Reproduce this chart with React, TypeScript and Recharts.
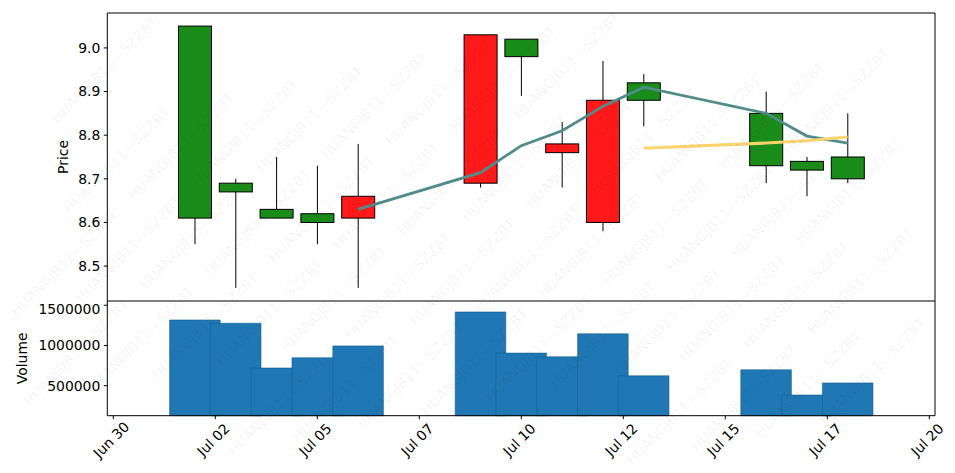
import React from 'react';
import { ComposedChart, Bar, Line, XAxis, YAxis, ReferenceArea } from 'recharts';

// ---- data ----
const DATES = [
  '2018-07-02', '2018-07-03', '2018-07-04', '2018-07-05', '2018-07-06',
  '2018-07-09', '2018-07-10', '2018-07-11', '2018-07-12', '2018-07-13',
  '2018-07-16', '2018-07-17', '2018-07-18',
];
const OPEN = [9.05, 8.69, 8.63, 8.62, 8.61, 8.69, 9.02, 8.76, 8.6, 8.92, 8.85, 8.74, 8.75];
const HIGH = [9.05, 8.7, 8.75, 8.73, 8.78, 9.03, 9.02, 8.83, 8.97, 8.94, 8.9, 8.75, 8.85];
const LOW = [8.55, 8.45, 8.61, 8.55, 8.45, 8.68, 8.89, 8.68, 8.58, 8.82, 8.69, 8.66, 8.69];
const CLOSE = [8.61, 8.67, 8.61, 8.6, 8.66, 9.03, 8.98, 8.78, 8.88, 8.88, 8.73, 8.72, 8.7];
const VOLUME = [1317000, 1276000, 720000, 847000, 995000, 1417000, 905000, 859000, 1145000, 623000, 698000, 384000, 534000];
const MA5 = [null, null, null, null, 8.63, 8.714, 8.776, 8.81, 8.866, 8.91, 8.85, 8.798, 8.782];
const MA10 = [null, null, null, null, null, null, null, null, null, 8.77, 8.782, 8.787, 8.796];

const ORIGIN = '2018-06-30';
const X_TICKS = [0, 2.5, 5, 7.5, 10, 12.5, 15, 17.5, 20];
const X_TICK_LABELS = ['Jun 30', 'Jul 02', 'Jul 05', 'Jul 07', 'Jul 10', 'Jul 12', 'Jul 15', 'Jul 17', 'Jul 20'];
const X_DOMAIN: [number, number] = [-0.147, 20.14];

const PRICE_TICKS = [8.5, 8.6, 8.7, 8.8, 8.9, 9.0];
const PRICE_DOMAIN: [number, number] = [8.42, 9.08];
const VOL_TICKS = [500000, 1000000, 1500000];
const VOL_DOMAIN: [number, number] = [127000, 1553000];
const VOL_BAR_DAYS = 1.24; // width of a volume bar, in days

const WATERMARK = 'HUANGJB11—SZZBT';

const dayOffset = (s: string) => (Date.parse(s) - Date.parse(ORIGIN)) / 86400000;

const rows = DATES.map((d, i) => ({
  d: dayOffset(d),
  open: OPEN[i],
  high: HIGH[i],
  low: LOW[i],
  close: CLOSE[i],
  volume: VOLUME[i],
  ma5: MA5[i],
  ma10: MA10[i],
}));

const FONT = 'DejaVu Sans, sans-serif';
const FS = 13.9;
const UP = '#ff1919';
const DOWN = '#198c19';

const Candle = (props: any) => {
  const { x, y, width, height, payload } = props;
  if (!payload) return null;
  const { open, high, low, close } = payload;
  const top = Math.min(y, y + height);
  const h = Math.abs(height);
  const ppu = h / (high - low);
  const py = (v: number) => top + (high - v) * ppu;
  const cx = x + width / 2;
  const bTop = py(Math.max(open, close));
  const bBot = py(Math.min(open, close));
  const color = close >= open ? UP : DOWN;
  return (
    <g>
      <line x1={cx} x2={cx} y1={top} y2={top + h} stroke="#000" strokeWidth={1} />
      <rect x={x} y={bTop} width={width} height={Math.max(bBot - bTop, 0.5)} fill={color} stroke="#000" strokeWidth={1} />
    </g>
  );
};

const XTick = (props: any) => {
  const { x, y, payload } = props;
  const i = X_TICKS.indexOf(payload.value);
  const label = i >= 0 ? X_TICK_LABELS[i] : '';
  const cx = x - 2;
  const cy = y + 20.5;
  return (
    <text
      x={cx}
      y={cy}
      textAnchor="middle"
      dominantBaseline="central"
      fontFamily={FONT}
      fontSize={FS}
      fill="#000"
      transform={`rotate(-45, ${cx}, ${cy})`}
    >
      {label}
    </text>
  );
};

const axisLabel = (text: string, dx: number) => (p: any) => {
  const vb = p.viewBox || {};
  const cx = vb.x + dx;
  const cy = vb.y + vb.height / 2;
  return (
    <text x={cx} y={cy} textAnchor="middle" dominantBaseline="central" fontFamily={FONT} fontSize={FS} fill="#000" transform={`rotate(-90, ${cx}, ${cy})`}>
      {text}
    </text>
  );
};

const Watermark = () => {
  const items: React.ReactNode[] = [];
  const c = Math.SQRT1_2;
  const ext = 110; // diagonal extent of one text
  let k = 0;
  for (let a = -14; a <= 18; a++) {
    for (let b = -6; b <= 50; b++) {
      const u = a * 165 + (b % 3) * 55;
      const v = b * 36 - 300;
      const x = u * c + v * c;
      const y = -u * c + v * c + 300;
      if (x < 6 || x + ext > 950 || y - ext < 4 || y > 466) continue;
      items.push(
        <text key={k++} x={x} y={y} fontFamily={FONT} fontSize={14} fill="#000" fillOpacity={0.06} transform={`rotate(-45, ${x}, ${y})`}>
          {WATERMARK}
        </text>
      );
    }
  }
  return (
    <svg width={955} height={473} style={{ position: 'absolute', left: 0, top: 0, pointerEvents: 'none' }}>
      {items}
    </svg>
  );
};

export default function App() {
  return (
    <div style={{ position: 'absolute', left: 0, top: 0, width: 955, height: 473, background: '#fff', overflow: 'hidden' }}>
      <div style={{ position: 'absolute', left: 0, top: 0 }}>
        <ComposedChart width={955} height={301} data={rows} margin={{ top: 13, right: 20, bottom: 0, left: 47 }}>
          <XAxis type="number" dataKey="d" domain={X_DOMAIN} allowDataOverflow ticks={X_TICKS} hide />
          <YAxis
            type="number"
            domain={PRICE_DOMAIN}
            allowDataOverflow
            ticks={PRICE_TICKS}
            width={60.3}
            axisLine={false}
            tickLine={{ stroke: '#000' }}
            tickSize={3.5}
            tickMargin={3.5}
            tick={{ fill: '#000', fontSize: FS, fontFamily: FONT }}
            tickFormatter={(v: number) => v.toFixed(1)}
            label={{ content: axisLabel('Price', 16) } as any}
          />
          <Bar dataKey={(r: any) => [r.low, r.high]} barSize={33} shape={<Candle />} isAnimationActive={false} />
          <Line dataKey="ma5" type="linear" stroke="#4f8c8b" strokeWidth={2.8} dot={false} activeDot={false} isAnimationActive={false} />
          <Line dataKey="ma10" type="linear" stroke="#f9d36b" strokeWidth={3} dot={false} activeDot={false} isAnimationActive={false} />
          <ReferenceArea x1={X_DOMAIN[0]} x2={X_DOMAIN[1]} y1={PRICE_DOMAIN[0]} y2={PRICE_DOMAIN[1]} fill="none" fillOpacity={0} stroke="#000" strokeWidth={1} ifOverflow="visible" />
        </ComposedChart>
      </div>
      <div style={{ position: 'absolute', left: 0, top: 301 }}>
        <ComposedChart width={955} height={172} data={rows} margin={{ top: 0, right: 20, bottom: 0, left: 47 }}>
          <XAxis
            type="number"
            dataKey="d"
            domain={X_DOMAIN}
            allowDataOverflow
            ticks={X_TICKS}
            height={57.3}
            axisLine={false}
            tickLine={{ stroke: '#000' }}
            tickSize={3.5}
            tickMargin={0}
            tick={<XTick />}
            interval={0}
          />
          <YAxis
            type="number"
            domain={VOL_DOMAIN}
            allowDataOverflow
            ticks={VOL_TICKS}
            width={60.3}
            axisLine={false}
            tickLine={{ stroke: '#000' }}
            tickSize={3.5}
            tickMargin={3.5}
            tick={{ fill: '#000', fontSize: FS, fontFamily: FONT }}
            tickFormatter={(v: number) => String(v)}
            label={{ content: axisLabel('Volume', -25) } as any}
          />
          {rows.map((r, i) => (
            <ReferenceArea
              key={i}
              x1={r.d - VOL_BAR_DAYS / 2}
              x2={r.d + VOL_BAR_DAYS / 2}
              y1={VOL_DOMAIN[0]}
              y2={r.volume}
              fill="#1f77b4"
              fillOpacity={1}
              stroke="#1a5f90"
              strokeWidth={0.6}
              ifOverflow="visible"
            />
          ))}
          <ReferenceArea x1={X_DOMAIN[0]} x2={X_DOMAIN[1]} y1={VOL_DOMAIN[0]} y2={VOL_DOMAIN[1]} fill="none" fillOpacity={0} stroke="#000" strokeWidth={1} ifOverflow="visible" />
        </ComposedChart>
      </div>
      <Watermark />
    </div>
  );
}
